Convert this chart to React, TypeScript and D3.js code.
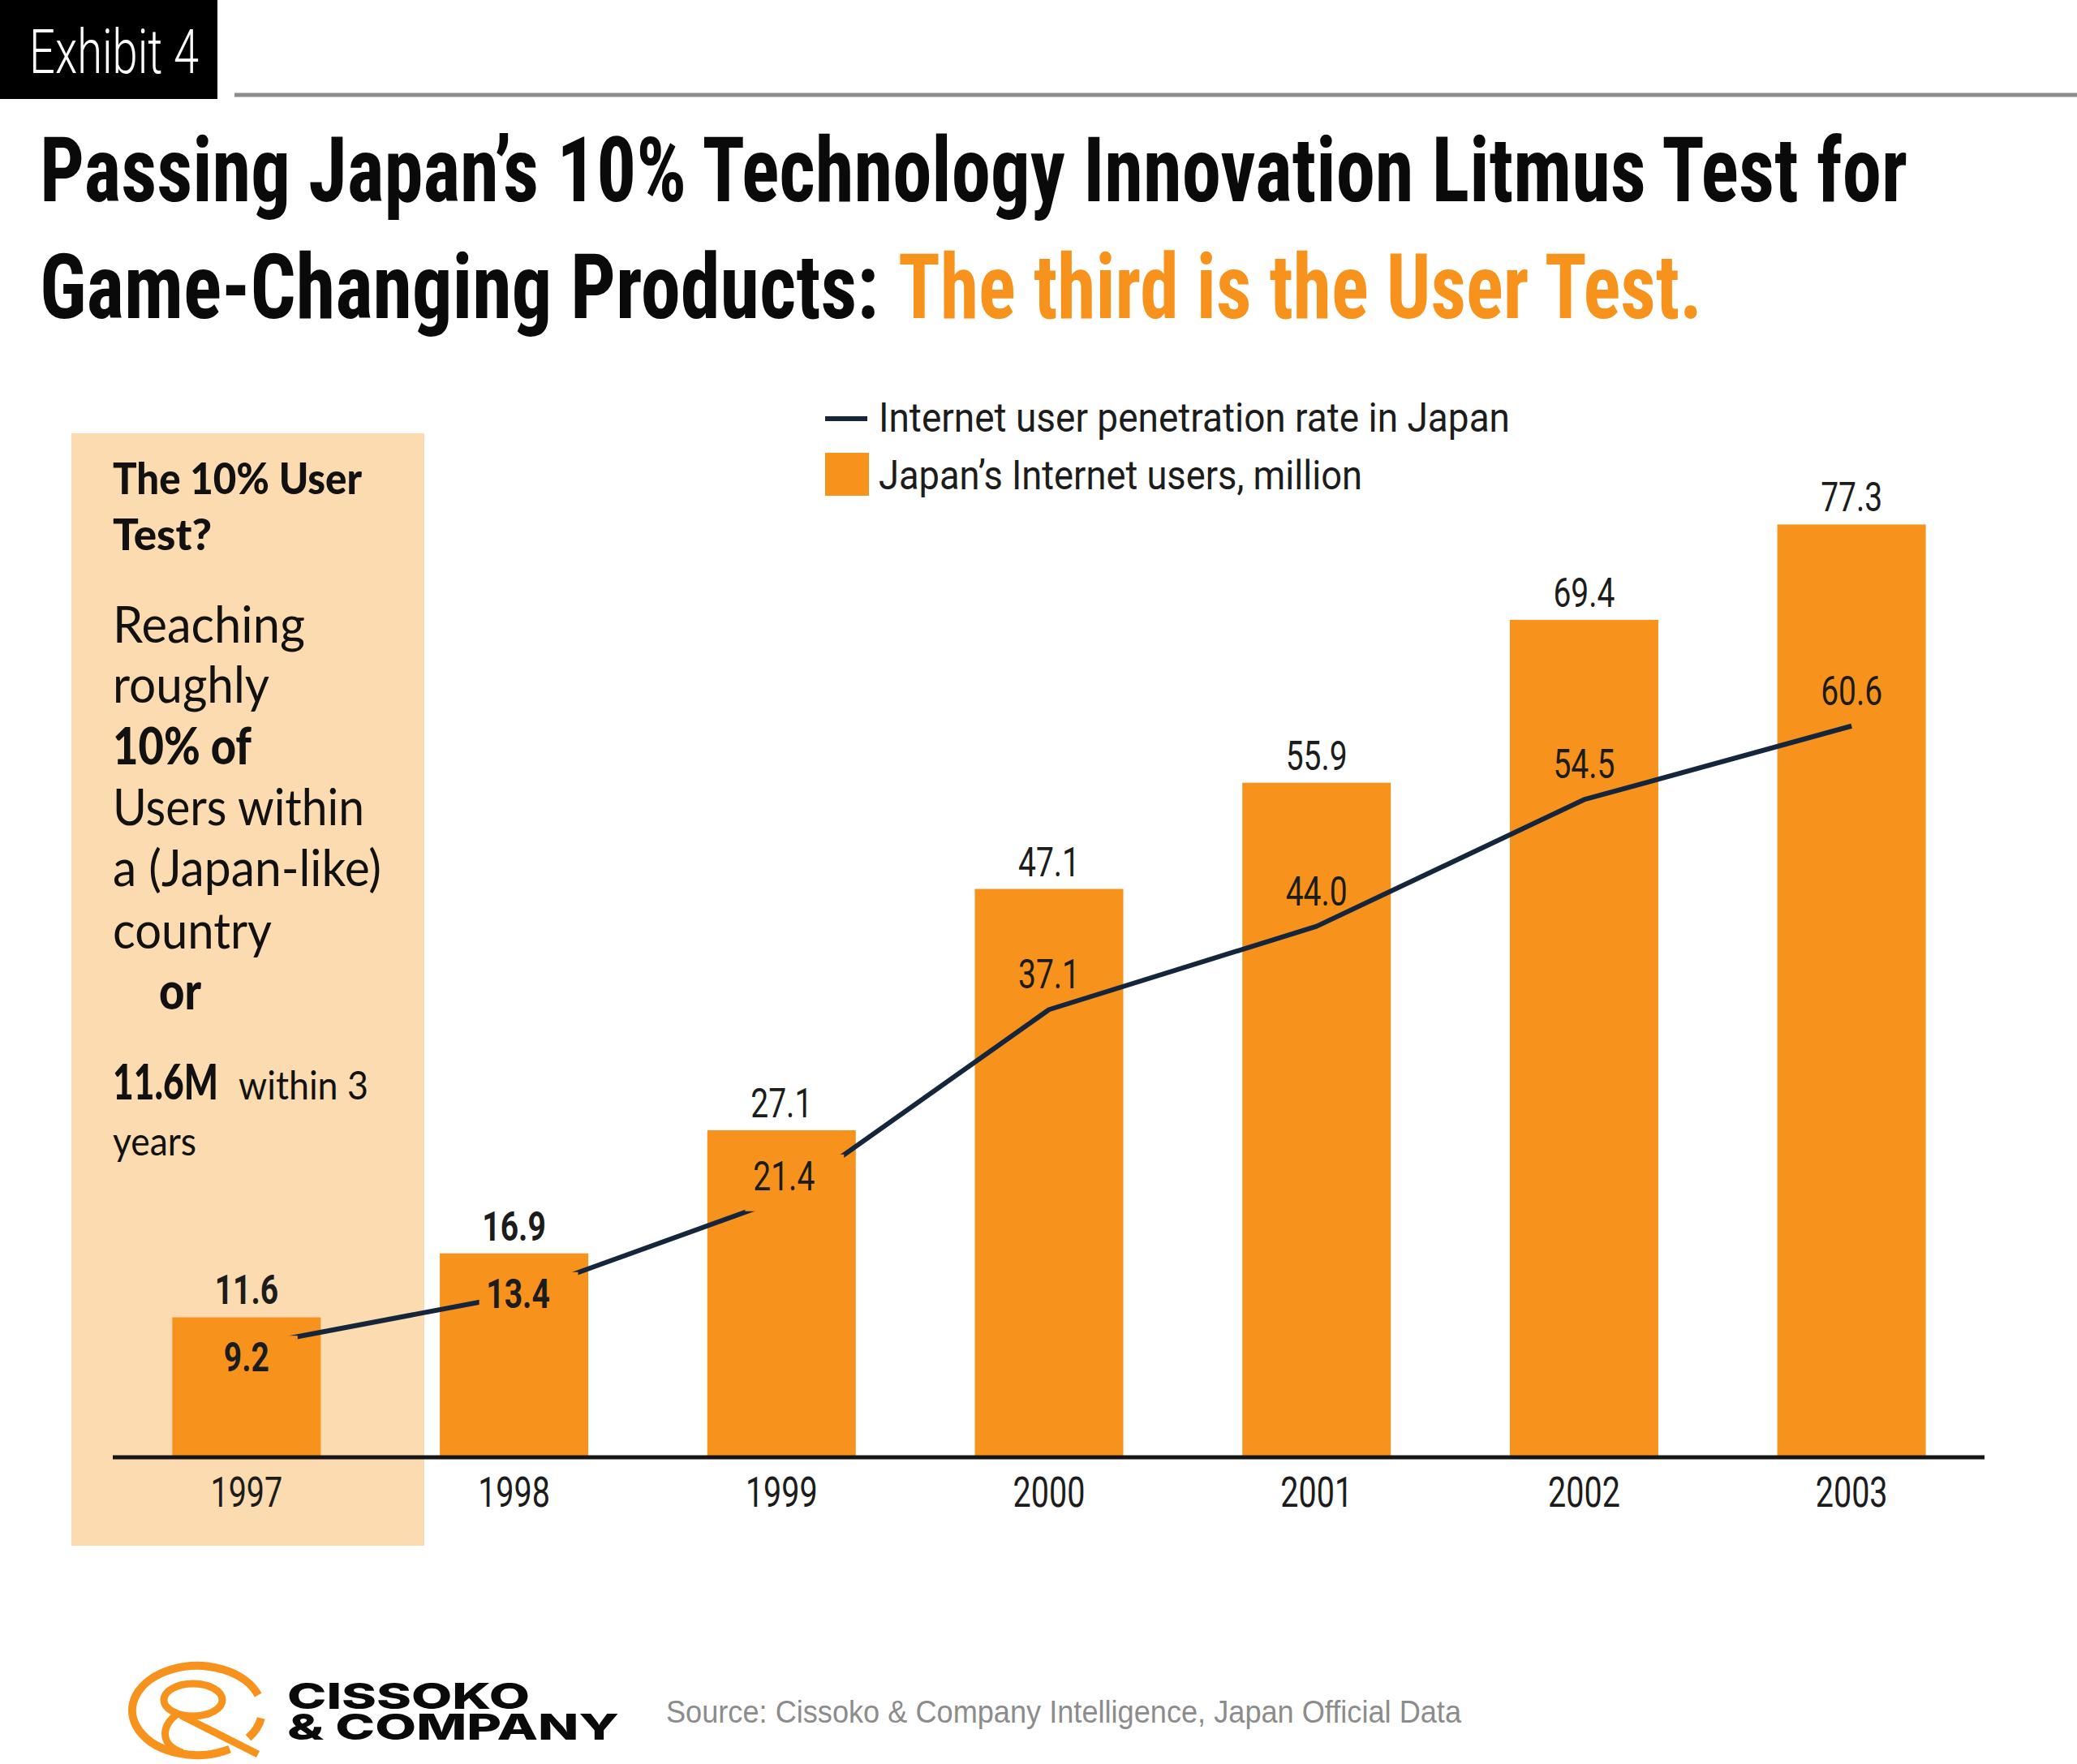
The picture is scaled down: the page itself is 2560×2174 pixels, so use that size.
import React from 'react';
import * as d3 from 'd3';

// Japan internet users (million) and penetration rate (%)
const years = ['1997', '1998', '1999', '2000', '2001', '2002', '2003'];
const users = [11.6, 16.9, 27.1, 47.1, 55.9, 69.4, 77.3];
const penetration = [9.2, 13.4, 21.4, 37.1, 44.0, 54.5, 60.6];
const boldYears = ['1997', '1998'];
const knockoutYears = ['1997', '1998', '1999'];

const legendLabels = ['Internet user penetration rate in Japan', 'Japan’s Internet users, million'];
const titleLine1 = 'Passing Japan’s 10% Technology Innovation Litmus Test for';
const titleLine2 = 'Game-Changing Products:';
const titleAccent = 'The third is the User Test.';
const sourceText = 'Source: Cissoko & Company Intelligence, Japan Official Data';

// label baseline offset from its line point
const lineLabelDy = [31, 15, -11, -26, -26, -26, -26];
const lineLabelDx = [0, 5, 3, 0, 0, 0, 0];

const W = 2560;
const H = 2174;
const ORANGE = '#F7931C';
const PEACH = '#FCDBB0';
const NAVY = '#15263C';
const INK = '#1c1c1c';

const labelFont = "Roboto, 'Noto Sans', sans-serif";
const panelFont = "Lato, 'Noto Sans', sans-serif";
const NUM_SCALE = 0.78;
const NUM_SIZE = 50;

const numWidth = (s: string) =>
  s.split('').reduce((w, c) => w + (c === '.' ? 0.26 : 0.562), 0) * NUM_SIZE * NUM_SCALE;

const App: React.FC = () => {
  const baseY = 1796;
  const x = d3.scaleBand<string>()
    .domain(years)
    .range([139, 2447])
    .paddingInner(0.445)
    .paddingOuter(0.2225);
  const y = d3.scaleLinear().domain([0, 80]).range([baseY, baseY - 80 * 14.872]);
  const cx = (yr: string) => (x(yr) as number) + x.bandwidth() / 2;

  const linePts = years.map((yr, i) => [cx(yr), y(penetration[i])] as [number, number]);
  const line = d3.line();

  // logo: stretched "C" ring around an ampersand
  const lc = { x: 243, y: 2108 };
  const RX = 80;
  const RY = 55;
  const pt = (deg: number) => {
    const a = (deg * Math.PI) / 180;
    return `${lc.x + RX * Math.cos(a)} ${lc.y + RY * Math.sin(a)}`;
  };

  return (
    <svg width={W} height={H} style={{ position: 'absolute', left: 0, top: 0, background: '#fff' }}>
      {/* header tag and rule */}
      <rect x={0} y={0} width={268} height={122} fill="#000" />
      <text x={36} y={90} fill="#fff" fontFamily={labelFont} fontWeight={300} fontSize={76}
        textLength={209} lengthAdjust="spacingAndGlyphs">Exhibit 4</text>
      <line x1={289} x2={W} y1={117} y2={117} stroke="#8c8c8c" strokeWidth={5} />

      {/* title */}
      <g fontFamily="'Roboto Condensed', Roboto, sans-serif" fontWeight={700} fontSize={112}>
        <text x={49} y={248} fill="#0a0a0a" textLength={2302} lengthAdjust="spacingAndGlyphs">{titleLine1}</text>
        <text x={49} y={392} fill="#0a0a0a" textLength={1034} lengthAdjust="spacingAndGlyphs">{titleLine2}</text>
        <text x={1107} y={392} fill={ORANGE} textLength={991} lengthAdjust="spacingAndGlyphs">{titleAccent}</text>
      </g>

      {/* side panel */}
      <rect x={88} y={534} width={435} height={1371} fill={PEACH} />
      <g fontFamily={panelFont} fill="#111">
        <text x={139} y={609} fontSize={54} fontWeight={900} textLength={307} lengthAdjust="spacingAndGlyphs">The 10% User</text>
        <text x={139} y={678} fontSize={54} fontWeight={900} textLength={122} lengthAdjust="spacingAndGlyphs">Test?</text>
        <text x={139} y={792} fontSize={62} fontWeight={400} textLength={237} lengthAdjust="spacingAndGlyphs">Reaching</text>
        <text x={139} y={866} fontSize={62} fontWeight={400} textLength={193} lengthAdjust="spacingAndGlyphs">roughly</text>
        <text x={139} y={942} fontSize={62} fontWeight={900} textLength={171} lengthAdjust="spacingAndGlyphs">10% of</text>
        <text x={139} y={1017} fontSize={62} fontWeight={400} textLength={310} lengthAdjust="spacingAndGlyphs">Users within</text>
        <text x={139} y={1092} fontSize={62} fontWeight={400} textLength={331} lengthAdjust="spacingAndGlyphs">a (Japan-like)</text>
        <text x={139} y={1169} fontSize={62} fontWeight={400} textLength={196} lengthAdjust="spacingAndGlyphs">country</text>
        <text x={196} y={1244} fontSize={62} fontWeight={900} textLength={52} lengthAdjust="spacingAndGlyphs">or</text>
        <text x={139} y={1355} fontSize={60} fontWeight={900} textLength={130} lengthAdjust="spacingAndGlyphs">11.6M</text>
        <text x={294} y={1355} fontSize={48} fontWeight={400} textLength={160} lengthAdjust="spacingAndGlyphs">within 3</text>
        <text x={139} y={1424} fontSize={48} fontWeight={400} textLength={103} lengthAdjust="spacingAndGlyphs">years</text>
      </g>

      {/* legend */}
      <g fontFamily={labelFont} fontSize={50} fill={INK}>
        <line x1={1017} x2={1069} y1={516} y2={516} stroke={NAVY} strokeWidth={6} />
        <text x={1083} y={532} textLength={778} lengthAdjust="spacingAndGlyphs">{legendLabels[0]}</text>
        <rect x={1017} y={558} width={54} height={53} fill={ORANGE} />
        <text x={1083} y={603} textLength={596} lengthAdjust="spacingAndGlyphs">{legendLabels[1]}</text>
      </g>

      {/* bars */}
      {years.map((yr, i) => (
        <rect key={yr} x={x(yr)} y={y(users[i])} width={x.bandwidth()} height={baseY - y(users[i])} fill={ORANGE} />
      ))}

      {/* penetration line, cut where its labels sit */}
      <defs>
        <mask id="lineMask" maskUnits="userSpaceOnUse" x={0} y={0} width={W} height={H}>
          <rect x={0} y={0} width={W} height={H} fill="#fff" />
          {years.map((yr, i) => {
            if (!knockoutYears.includes(yr)) return null;
            const lx = cx(yr) + lineLabelDx[i];
            const by = y(penetration[i]) + lineLabelDy[i];
            const w = numWidth(penetration[i].toFixed(1));
            return <rect key={yr} x={lx - w / 2 - 10} y={by - 44} width={w + 46} height={70} fill="#000" />;
          })}
        </mask>
      </defs>
      <path d={line(linePts) || ''} fill="none" stroke={NAVY} strokeWidth={6} strokeLinejoin="round" mask="url(#lineMask)" />

      {/* value labels */}
      <g fontFamily={labelFont} fontSize={NUM_SIZE} fill={INK} textAnchor="middle">
        {years.map((yr, i) => (
          <text key={`u${yr}`} transform={`translate(${cx(yr)},${y(users[i]) - 16}) scale(${NUM_SCALE},1)`}
            fontWeight={boldYears.includes(yr) ? 700 : 400}>{users[i].toFixed(1)}</text>
        ))}
        {years.map((yr, i) => (
          <text key={`p${yr}`}
            transform={`translate(${cx(yr) + lineLabelDx[i]},${y(penetration[i]) + lineLabelDy[i]}) scale(${NUM_SCALE},1)`}
            fontWeight={boldYears.includes(yr) ? 700 : 400}>{penetration[i].toFixed(1)}</text>
        ))}
      </g>

      {/* x axis */}
      <line x1={139} x2={2446} y1={baseY} y2={baseY} stroke="#151515" strokeWidth={5} />
      <g fontFamily={labelFont} fontSize={52} fill={INK} textAnchor="middle">
        {years.map(yr => (
          <text key={`x${yr}`} transform={`translate(${cx(yr)},1857) scale(0.76,1)`}>{yr}</text>
        ))}
      </g>

      {/* footer logo */}
      <g fill="none" stroke={ORANGE} strokeWidth={10} strokeLinecap="butt">
        <path d={`M ${pt(-20)} A ${RX} ${RY} 0 1 0 ${pt(60)}`} />
        <path d={`M ${pt(10)} A ${RX} ${RY} 0 0 1 ${pt(38)}`} />
        <ellipse cx={lc.x - 5} cy={lc.y - 13} rx={36} ry={20} strokeWidth={9} />
        <path d={`M ${lc.x - 22} ${lc.y + 3} C ${lc.x - 44} ${lc.y + 16}, ${lc.x - 48} ${lc.y + 42}, ${lc.x - 18} ${lc.y + 52}`} strokeWidth={9} />
        <path d={`M ${lc.x - 20} ${lc.y + 6} L ${lc.x + 75} ${lc.y + 54}`} strokeWidth={9} />
      </g>
      <g fontFamily="Inter, Lato, sans-serif" fontWeight={800} fontSize={44} fill="#0a0a0a">
        <text x={354} y={2106} textLength={299} lengthAdjust="spacingAndGlyphs">CISSOKO</text>
        <text x={354} y={2144} textLength={409} lengthAdjust="spacingAndGlyphs">&amp; COMPANY</text>
      </g>
      <text x={821} y={2123} fontFamily="'Liberation Sans', Arial, sans-serif" fontSize={38} fill="#8c8c8c"
        textLength={980} lengthAdjust="spacingAndGlyphs">{sourceText}</text>
    </svg>
  );
};

export default App;
